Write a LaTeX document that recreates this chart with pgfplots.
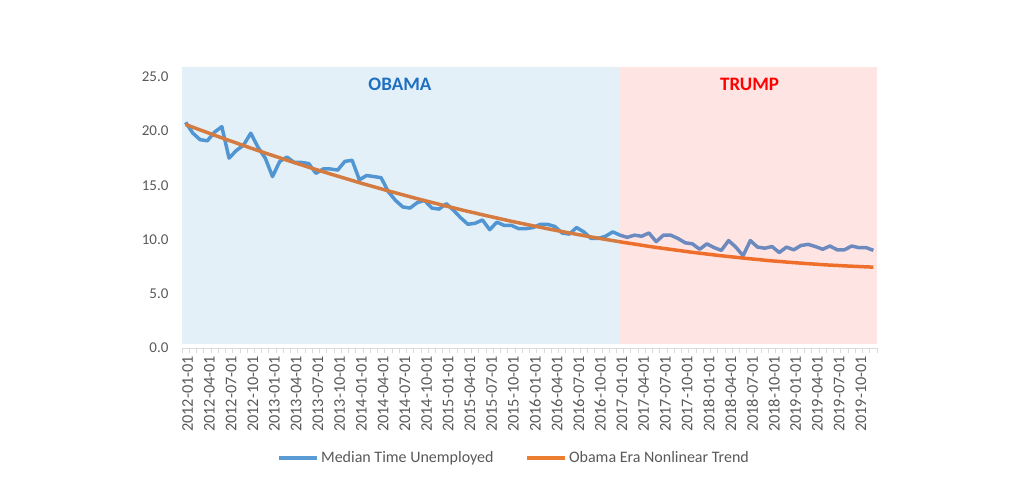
\documentclass[border=0pt]{standalone}
\usepackage{pgfplots}
\pgfplotsset{compat=1.18}
\usepackage{pgfplotstable}
\usepackage{fontspec}
\setmainfont{Carlito}
\definecolor{blueline}{HTML}{5B9BD5}
\definecolor{orangeline}{HTML}{ED7D31}
\definecolor{obamatxt}{HTML}{1F6FC0}
\definecolor{ticktxt}{HTML}{595959}
\definecolor{axisgray}{HTML}{D9D9D9}

\pgfplotstableread{
i val
0 20.8
1 19.8
2 19.2
3 19.1
4 19.9
5 20.4
6 17.5
7 18.2
8 18.7
9 19.8
10 18.5
11 17.5
12 15.8
13 17.2
14 17.6
15 17.1
16 17.1
17 17.0
18 16.1
19 16.5
20 16.5
21 16.4
22 17.2
23 17.3
24 15.5
25 15.9
26 15.8
27 15.7
28 14.4
29 13.6
30 13.0
31 12.9
32 13.4
33 13.6
34 12.9
35 12.8
36 13.3
37 12.7
38 12.0
39 11.4
40 11.5
41 11.8
42 10.9
43 11.6
44 11.3
45 11.3
46 11.0
47 11.0
48 11.1
49 11.4
50 11.4
51 11.2
52 10.6
53 10.5
54 11.1
55 10.7
56 10.1
57 10.1
58 10.3
59 10.7
60 10.4
61 10.2
62 10.4
63 10.3
64 10.6
65 9.8
66 10.4
67 10.4
68 10.1
69 9.7
70 9.6
71 9.1
72 9.6
73 9.25
74 9.0
75 9.9
76 9.3
77 8.5
78 9.9
79 9.3
80 9.2
81 9.35
82 8.8
83 9.3
84 9.05
85 9.45
86 9.55
87 9.35
88 9.1
89 9.4
90 9.05
91 9.05
92 9.4
93 9.25
94 9.25
95 9.0
}\median

\pgfplotstableread{
i val
0 20.60
1 20.35
2 20.10
3 19.86
4 19.61
5 19.37
6 19.13
7 18.90
8 18.66
9 18.43
10 18.20
11 17.97
12 17.75
13 17.53
14 17.31
15 17.09
16 16.88
17 16.66
18 16.45
19 16.25
20 16.04
21 15.84
22 15.64
23 15.44
24 15.24
25 15.05
26 14.86
27 14.67
28 14.48
29 14.30
30 14.12
31 13.94
32 13.76
33 13.59
34 13.42
35 13.25
36 13.08
37 12.92
38 12.75
39 12.59
40 12.44
41 12.28
42 12.13
43 11.98
44 11.83
45 11.68
46 11.54
47 11.40
48 11.26
49 11.13
50 10.99
51 10.86
52 10.73
53 10.61
54 10.48
55 10.36
56 10.24
57 10.12
58 10.01
59 9.90
60 9.79
61 9.68
62 9.58
63 9.47
64 9.37
65 9.27
66 9.18
67 9.09
68 9.00
69 8.91
70 8.82
71 8.74
72 8.66
73 8.58
74 8.50
75 8.43
76 8.36
77 8.29
78 8.22
79 8.16
80 8.09
81 8.03
82 7.98
83 7.92
84 7.87
85 7.82
86 7.77
87 7.73
88 7.68
89 7.64
90 7.61
91 7.57
92 7.54
93 7.51
94 7.48
95 7.45
}\trend

\begin{document}
\begin{tikzpicture}
\useasboundingbox (0,0) rectangle (1024pt,498pt);
\begin{axis}[
  at={(182pt,150pt)}, anchor=south west,
  width=695pt, height=281pt, scale only axis,
  xmin=-0.5, xmax=95.5, ymin=0, ymax=25.9,
  axis x line*=bottom, axis y line*=left,
  x axis line style={draw=axisgray, line width=1pt},
  y axis line style={draw=none},
  ytick={0,5,10,15,20,25},
  yticklabel style={/pgf/number format/fixed, /pgf/number format/fixed zerofill, /pgf/number format/precision=1, /pgf/number format/assume math mode=true, font=\fontsize{15}{18}\selectfont, text=ticktxt, xshift=-10pt},
  ytick style={draw=none},
  xtick={0,3,...,93},
  xticklabels={2012-01-01,2012-04-01,2012-07-01,2012-10-01,2013-01-01,2013-04-01,2013-07-01,2013-10-01,2014-01-01,2014-04-01,2014-07-01,2014-10-01,2015-01-01,2015-04-01,2015-07-01,2015-10-01,2016-01-01,2016-04-01,2016-07-01,2016-10-01,2017-01-01,2017-04-01,2017-07-01,2017-10-01,2018-01-01,2018-04-01,2018-07-01,2018-10-01,2019-01-01,2019-04-01,2019-07-01,2019-10-01},
  xticklabel style={rotate=90, anchor=east, font=\fontsize{16.3}{19}\selectfont, text=ticktxt, yshift=-2pt},
  major x tick style={draw=none},
  minor xtick={-0.5,0.5,...,95.5},
  minor x tick style={draw=axisgray, line width=0.8pt},
  minor tick length=5pt,
  xtick align=outside,
  clip=true,
  legend style={at={(0.478,-0.391)}, anchor=center, draw=none, fill=none,
    legend columns=2, font=\fontsize{16}{19}\selectfont, text=ticktxt,
    /tikz/every even column/.append style={column sep=30pt}},
  legend image code/.code={\draw[#1] (0pt,0pt) -- (38pt,0pt);},
]
\addplot[blueline, line width=3.5pt, line join=round] table[x=i,y=val] {\median};
\addlegendentry{Median Time Unemployed}
\addplot[orangeline, line width=3.5pt, line join=round] table[x=i,y=val] {\trend};
\addlegendentry{Obama Era Nonlinear Trend}
\addplot[draw=none, fill={rgb,255:red,0;green,112;blue,192}, fill opacity=0.106, forget plot]
  coordinates {(-0.5,0.37) (60,0.37) (60,25.9) (-0.5,25.9)} -- cycle;
\addplot[draw=none, fill={rgb,255:red,255;green,0;blue,0}, fill opacity=0.106, forget plot]
  coordinates {(60,0.37) (95.5,0.37) (95.5,25.9) (60,25.9)} -- cycle;
\node[text=obamatxt, font=\fontsize{19}{22}\selectfont\bfseries] at (axis cs:29.6,24.3) {OBAMA};
\node[text=red, font=\fontsize{19}{22}\selectfont\bfseries] at (axis cs:77.9,24.3) {TRUMP};
\end{axis}
\end{tikzpicture}
\end{document}
